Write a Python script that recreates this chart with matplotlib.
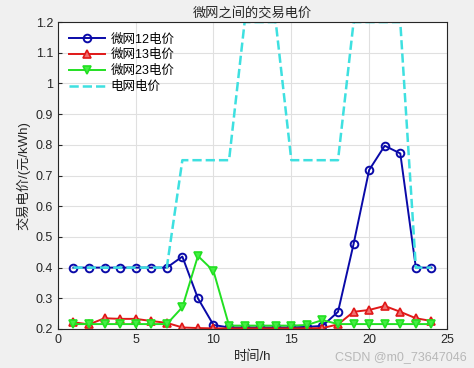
import matplotlib.pyplot as plt
from matplotlib.ticker import FuncFormatter
import numpy as np

plt.rcParams['font.family'] = ['Liberation Sans', 'Noto Sans CJK SC', 'DejaVu Sans']

hours = list(range(1, 25))

# microgrid 1-2 trade price
price_12 = [0.40, 0.40, 0.40, 0.40, 0.40, 0.40, 0.40, 0.436, 0.300, 0.213,
            0.205, 0.205, 0.205, 0.205, 0.205, 0.207, 0.210, 0.256, 0.477, 0.718,
            0.797, 0.772, 0.40, 0.40]
# microgrid 1-3 trade price
price_13 = [0.222, 0.215, 0.235, 0.233, 0.233, 0.226, 0.220, 0.205, 0.203, 0.202,
            0.202, 0.202, 0.202, 0.202, 0.202, 0.202, 0.203, 0.215, 0.256, 0.262,
            0.275, 0.256, 0.235, 0.226]
# microgrid 2-3 trade price
price_23 = [0.216, 0.216, 0.216, 0.216, 0.216, 0.216, 0.216, 0.271, 0.438, 0.389,
            0.211, 0.211, 0.211, 0.211, 0.211, 0.213, 0.229, 0.216, 0.216, 0.216,
            0.216, 0.216, 0.216, 0.216]
# grid price
price_grid = [0.40, 0.40, 0.40, 0.40, 0.40, 0.40, 0.40, 0.75, 0.75, 0.75,
              0.75, 1.20, 1.20, 1.20, 0.75, 0.75, 0.75, 0.75, 1.20, 1.20,
              1.20, 1.20, 0.40, 0.40]

labels = ['微网12电价', '微网13电价', '微网23电价', '电网电价']

fig = plt.figure(figsize=(4.74, 3.68), dpi=100, facecolor='#f0f0f0')
ax = fig.add_axes([0.122, 0.106, 0.821, 0.834])

ax.plot(hours, price_12, '-o', color='#0a0aa8', lw=1.4, ms=5.5, mfc='none', mew=1.4, label=labels[0])
ax.plot(hours, price_13, '-^', color='#e01818', lw=1.4, ms=5.5, mfc='#f07070', mew=1.2, label=labels[1])
ax.plot(hours, price_23, '-v', color='#22e022', lw=1.4, ms=5.5, mfc='#44ee44', mew=1.2, label=labels[2])
ax.plot(hours, price_grid, '--', color='#3ee0e0', lw=1.8, label=labels[3])

ax.set_xlim(0, 25)
ax.set_ylim(0.2, 1.2)
ax.set_xticks(np.arange(0, 26, 5))
ax.set_yticks(np.arange(0.2, 1.21, 0.1))
ax.yaxis.set_major_formatter(FuncFormatter(lambda v, p: ('%.1f' % v).rstrip('0').rstrip('.')))
ax.tick_params(direction='in', labelsize=9, colors='#262626', length=3)
ax.grid(True, color='#e0e0e0', lw=0.8)
for s in ax.spines.values():
    s.set_color('#262626')
    s.set_linewidth(0.8)

ax.set_title('微网之间的交易电价', fontsize=9.5, color='#262626', pad=4)
ax.set_xlabel('时间/h', fontsize=9.5, color='#262626', labelpad=3)
ax.set_ylabel('交易电价/(元/kWh)', fontsize=9.5, color='#262626', labelpad=4)

leg = ax.legend(loc='upper left', frameon=False, fontsize=9, handlelength=2.9,
                handletextpad=0.4, labelspacing=0.3, borderaxespad=0.5)

fig.text(0.985, 0.03, 'CSDN @m0_73647046', ha='right', va='center',
         fontsize=9, color='#b8b8b8')

plt.savefig('out.png', dpi=100, facecolor=fig.get_facecolor())
